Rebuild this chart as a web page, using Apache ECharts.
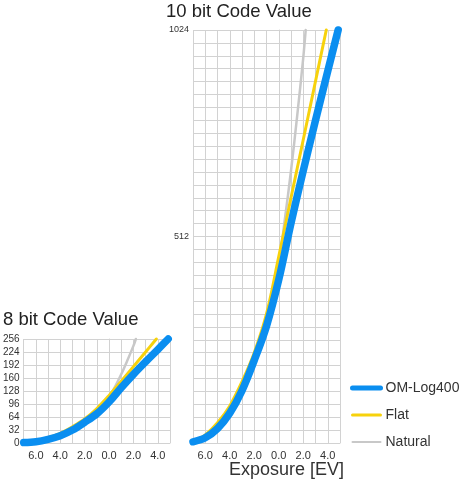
<!DOCTYPE html>
<html>
<head>
<meta charset="utf-8">
<script src="https://cdn.jsdelivr.net/npm/echarts@6/dist/echarts.min.js"></script>
<style>
  html, body { margin: 0; padding: 0; background: #fff; }
  #chart { width: 460px; height: 480px; }
</style>
</head>
<body>
<div id="chart"></div>
<script>
// exposure (EV) at which each curve was read
var evLog = [-7, -6, -5, -4, -3, -2, -1, 0, 1, 2, 3, 4, 4.85];
var evFlat = [-7, -6, -5, -4, -3, -2, -1, 0, 1, 2, 3, 3.88];
var evNatural = [-7, -6, -5, -4, -3, -2, -1, 0, 0.5, 1, 1.5, 2, 2.2];

// 10 bit code values
var log10bit = [3, 13, 36, 74, 130, 205, 290, 405, 545, 675, 800, 922, 1024];
var flat10bit = [3, 20, 50, 92, 152, 224, 320, 462, 608, 752, 897, 1024];
var natural10bit = [3, 16, 42, 82, 140, 213, 305, 445, 555, 675, 810, 955, 1024];

// 8 bit code values
var log8bit = [1, 3, 9, 18, 32, 51, 72, 101, 136, 169, 200, 230, 256];
var flat8bit = [1, 5, 13, 24, 40, 59, 85, 117, 152, 188, 224, 256];
var natural8bit = [1, 4, 10, 21, 36, 55, 80, 113, 139, 169, 203, 239, 256];

var names = ['OM-Log400', 'Flat', 'Natural'];
var colors = ['#0a8ef0', '#f7d20c', '#c8c8c8'];
var widths = [7.5, 3, 2.5];

var font = 'Liberation Sans, Arial, sans-serif';
var gridColor = '#d2d2d2';

function pairs(xs, ys) {
    return xs.map(function (x, i) { return [x, ys[i]]; });
}

function xAxisFor(idx) {
    return {
        gridIndex: idx,
        type: 'value',
        min: -7,
        max: 5,
        interval: 1,
        axisLine: {show: true, lineStyle: {color: gridColor}},
        axisTick: {show: false},
        splitLine: {show: true, lineStyle: {color: gridColor}},
        axisLabel: {
            color: '#333',
            fontSize: 11,
            fontFamily: font,
            margin: 7,
            formatter: function (v) {
                return (v % 2 === 0 && v < 5) ? Math.abs(v).toFixed(1) : '';
            }
        }
    };
}

function line(name, idx, data, k) {
    return {
        name: name,
        type: 'line',
        xAxisIndex: idx,
        yAxisIndex: idx,
        data: data,
        smooth: 0.35,
        showSymbol: false,
        symbol: 'none',
        clip: false,
        lineStyle: {color: colors[k], width: widths[k], cap: 'round', join: 'round'},
        itemStyle: {color: colors[k]}
    };
}

var chart = echarts.init(document.getElementById('chart'));

var option = {
    animation: false,
    title: [
        {text: '10 bit Code Value', left: 166, top: 2, padding: 0,
         textStyle: {fontSize: 18.5, fontWeight: 'normal', color: '#222', fontFamily: font}},
        {text: '8 bit Code Value', left: 3, top: 310, padding: 0,
         textStyle: {fontSize: 18.5, fontWeight: 'normal', color: '#222', fontFamily: font}},
        {text: 'Exposure [EV]', left: 229, top: 461, padding: 0,
         textStyle: {fontSize: 18, fontWeight: 'normal', color: '#333', fontFamily: font}}
    ],
    legend: {
        orient: 'vertical',
        left: 350,
        top: 381,
        padding: 0,
        itemWidth: 28,
        itemHeight: 14,
        itemGap: 13,
        itemStyle: {opacity: 0},
        textStyle: {fontSize: 14, color: '#333', fontFamily: font},
        data: names.map(function (n, k) {
            return {name: n, lineStyle: {width: [5, 3, 2][k], cap: 'round', opacity: 1}};
        })
    },
    grid: [
        {left: 23, top: 339, width: 147, height: 104},
        {left: 193, top: 30, width: 147, height: 413}
    ],
    xAxis: [xAxisFor(0), xAxisFor(1)],
    yAxis: [
        {
            gridIndex: 0, type: 'value', min: 0, max: 256, interval: 32,
            axisLine: {show: true, lineStyle: {color: gridColor}},
            axisTick: {show: false},
            splitLine: {lineStyle: {color: gridColor}},
            axisLabel: {color: '#333', fontSize: 10, fontFamily: font, margin: 4}
        },
        {
            gridIndex: 1, type: 'value', min: 0, max: 1024, interval: 32,
            axisLine: {show: true, lineStyle: {color: gridColor}},
            axisTick: {show: false},
            splitLine: {lineStyle: {color: gridColor}},
            axisLabel: {
                color: '#333', fontSize: 9, fontFamily: font, margin: 4,
                formatter: function (v) { return (v > 0 && v % 512 === 0) ? v : ''; }
            }
        }
    ],
    series: [
        line('Natural', 0, pairs(evNatural, natural8bit), 2),
        line('Flat', 0, pairs(evFlat, flat8bit), 1),
        line('OM-Log400', 0, pairs(evLog, log8bit), 0),
        line('Natural', 1, pairs(evNatural, natural10bit), 2),
        line('Flat', 1, pairs(evFlat, flat10bit), 1),
        line('OM-Log400', 1, pairs(evLog, log10bit), 0)
    ]
};

chart.setOption(option);
</script>
</body>
</html>
